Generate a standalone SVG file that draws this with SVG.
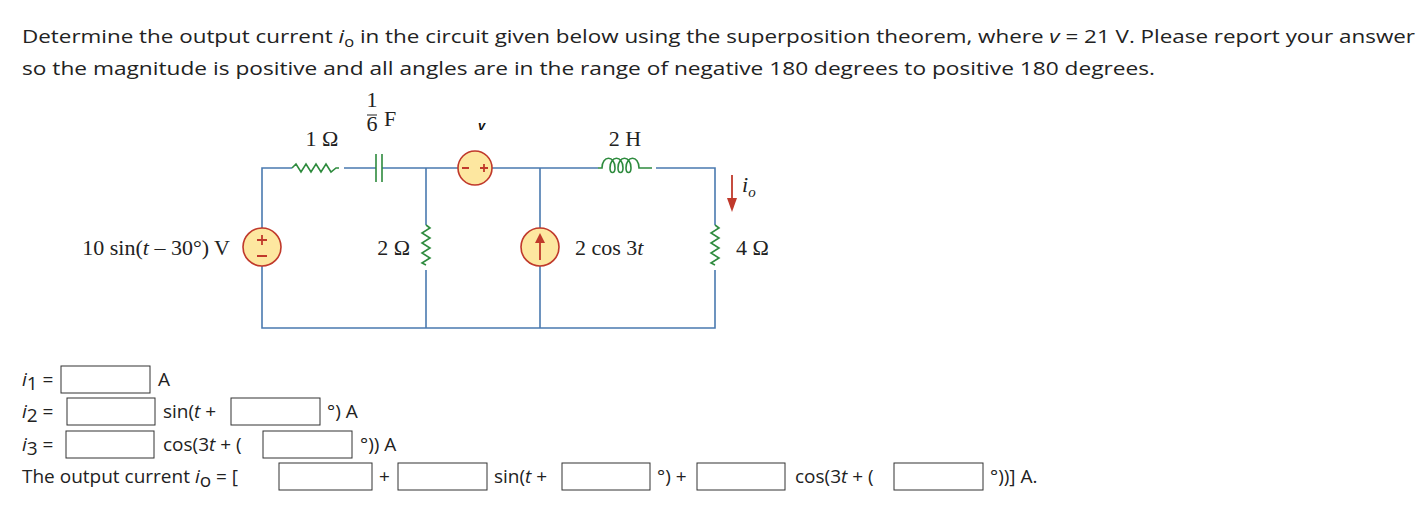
<svg xmlns="http://www.w3.org/2000/svg" width="1425" height="529" viewBox="0 0 1425 529">
<style>
.q{font-family:"Open Sans","Liberation Sans",sans-serif;font-size:19px;fill:#222}
.c{font-family:"Liberation Serif",serif;font-size:22px;fill:#222}
.w{stroke:#4a7ab0;stroke-width:1.6;fill:none}
.g{stroke:#2e8b3e;stroke-width:1.6;fill:none}
.s{fill:#fde7a0;stroke:#c0392b;stroke-width:1.6}
.r{stroke:#c0392b;stroke-width:1.8;fill:none}
.b{fill:#fff;stroke:#333;stroke-width:1}
</style>
<rect width="1425" height="529" fill="#fff"/>
<text class="q" x="22" y="43" textLength="1393" lengthAdjust="spacingAndGlyphs">Determine the output current <tspan font-style="italic">i</tspan><tspan font-size="14" dy="4">o</tspan><tspan dy="-4"> in the circuit given below using the superposition theorem, where </tspan><tspan font-style="italic">v</tspan> = 21 V. Please report your answer</text>
<text class="q" x="22" y="75" textLength="1133" lengthAdjust="spacingAndGlyphs">so the magnitude is positive and all angles are in the range of negative 180 degrees to positive 180 degrees.</text>
<g id="connectors">
<path class="w" d="M262 228V168H292M344 168H376M382 168H458M492 168H598M656 168H715V225M715 270V328H262V266M426 168V225M426 270V328M540 168V228M540 266V328"/>
</g>
<g id="src1"><circle class="s" cx="262" cy="247" r="19"/><path class="r" d="M257 240H267M262 235V245M257 256H267"/><text class="c" x="230" y="255" text-anchor="end">10 sin(<tspan font-style="italic">t</tspan> – 30°) V</text></g>
<g id="r1"><path class="g" d="M292 168l4 -4l5 8l5 -8l5 8l5 -8l5 8l5 -8l5 8l5 -4h3"/><text class="c" x="322" y="146" text-anchor="middle">1 Ω</text></g>
<g id="cap"><path class="g" d="M376 154V182M382 154V182"/><text class="c" x="372" y="107" font-size="13" text-anchor="middle">1</text><path d="M367 115H377" stroke="#222"/><text class="c" x="372" y="131" font-size="13" text-anchor="middle">6</text><text class="c" x="384" y="126">F</text></g>
<g id="vsrc"><circle class="s" cx="475" cy="168" r="17"/><path class="r" d="M462 168H469M480 168H488M484 164V172"/><text x="478" y="130" font-family="Liberation Sans,sans-serif" font-weight="bold" font-style="italic" font-size="13" fill="#111">v</text></g>
<g id="r2"><path class="g" d="M426 225l4 3l-8 5l8 5l-8 5l8 5l-8 5l8 5l-8 5l4 2"/><text class="c" x="410" y="255" text-anchor="end">2 Ω</text></g>
<g id="isrc"><circle class="s" cx="540" cy="247" r="19"/><path class="r" d="M540 260V240"/><path d="M535 243L540 233L545 243Z" fill="#c0392b"/><text class="c" x="575" y="255">2 cos 3<tspan font-style="italic">t</tspan></text></g>
<g id="ind"><path class="g" d="M598 168h4c0-13 13-13 13 0c0 6-5 6-5 0c0-13 13-13 13 0c0 6-5 6-5 0c0-13 13-13 13 0c0 6-5 6-5 0c0-13 13-13 13 0h13"/><text class="c" x="625" y="146" text-anchor="middle">2 H</text></g>
<g id="r4"><path class="g" d="M715 225l4 3l-8 5l8 5l-8 5l8 5l-8 5l8 5l-8 5l4 2"/><text class="c" x="736" y="255">4 Ω</text></g>
<g id="io"><path class="r" d="M732 175V200"/><path d="M727 198L732 212L737 198Z" fill="#c0392b"/><text class="c" x="742" y="192" font-style="italic">i<tspan font-size="15" dy="5">o</tspan></text></g>
<g id="answers">
<text class="q" x="22" y="386"><tspan font-style="italic">i</tspan><tspan dy="4">1</tspan><tspan dy="-4"> =</tspan></text>
<rect class="b" x="61" y="366" width="89" height="27"/><text class="q" x="158" y="386">A</text>
<text class="q" x="22" y="418"><tspan font-style="italic">i</tspan><tspan dy="4">2</tspan><tspan dy="-4"> =</tspan></text>
<rect class="b" x="67" y="398" width="88" height="27"/><text class="q" x="163" y="418">sin(<tspan font-style="italic">t</tspan> +</text>
<rect class="b" x="231" y="398" width="89" height="27"/><text class="q" x="327" y="418">°) A</text>
<text class="q" x="22" y="451"><tspan font-style="italic">i</tspan><tspan dy="4">3</tspan><tspan dy="-4"> =</tspan></text>
<rect class="b" x="66" y="431" width="88" height="27"/><text class="q" x="163" y="451">cos(3<tspan font-style="italic">t</tspan> + (</text>
<rect class="b" x="263" y="431" width="89" height="27"/><text class="q" x="360" y="451">°)) A</text>
<text class="q" x="22" y="483">The output current <tspan font-style="italic">i</tspan><tspan dy="4">o</tspan><tspan dy="-4"> = [</tspan></text>
<rect class="b" x="279" y="463" width="93" height="27"/><text class="q" x="379" y="483">+</text>
<rect class="b" x="398" y="463" width="89" height="27"/><text class="q" x="494" y="483">sin(<tspan font-style="italic">t</tspan> +</text>
<rect class="b" x="562" y="463" width="88" height="27"/><text class="q" x="657" y="483">°) +</text>
<rect class="b" x="697" y="463" width="88" height="27"/><text class="q" x="795" y="483">cos(3<tspan font-style="italic">t</tspan> + (</text>
<rect class="b" x="894" y="463" width="89" height="27"/><text class="q" x="990" y="483">°))] A.</text>
</g>
</svg>
